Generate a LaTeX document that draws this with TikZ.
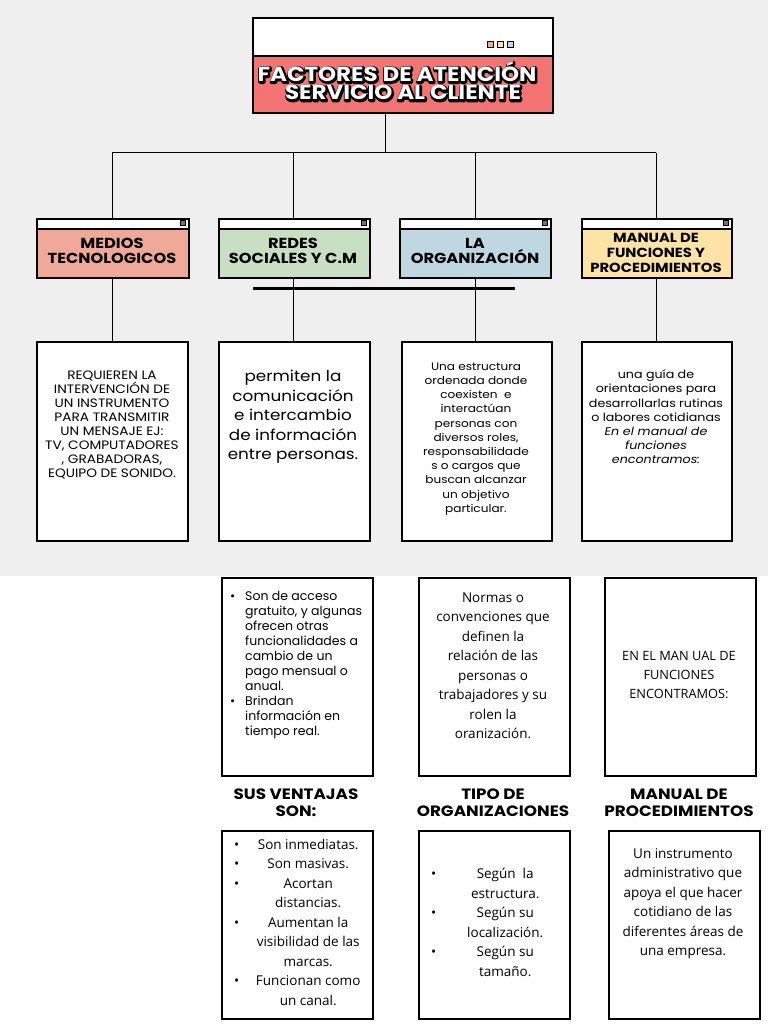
\documentclass[tikz,border=0pt]{standalone}
\usepackage{fontspec}
\setmainfont{Poppins}
\newfontfamily\opensans{Open Sans}
\newfontfamily\wide[FakeStretch=1.12]{Poppins}
\usetikzlibrary{calc}
\definecolor{paper}{HTML}{EFEFEF}
\definecolor{titlered}{HTML}{F47474}
\definecolor{cmedios}{HTML}{F0A898}
\definecolor{credes}{HTML}{C8DFC4}
\definecolor{corg}{HTML}{BFD7E0}
\definecolor{cmanual}{HTML}{FDE3A5}
\newcommand{\outlinetext}[1]{\rlap{\hspace{0.8pt}\raisebox{-0.8pt}{\color{black}\special{pdf:literal direct 0 0 0 RG 2 Tr 3.4 w 1 j}#1\special{pdf:literal direct 0 Tr}}}{\color{white}#1}}
\tikzset{
  bar/.style={draw=black, line width=2pt, fill=white, anchor=north west, inner sep=0pt},
  catbox/.style={draw=black, line width=2pt, anchor=north west, inner sep=0pt, minimum width=152pt, minimum height=49pt},
  cattext/.style={font=\wide\bfseries\fontsize{14.5}{15}\selectfont, align=center, inner sep=0pt},
  descbox/.style={draw=black, line width=1.5pt, fill=white, anchor=north west, inner sep=0pt},
  conn/.style={draw=black, line width=1pt},
  tiny/.style={draw=black, line width=1pt, fill=black!55, minimum size=5pt, inner sep=0pt},
  tsq/.style={draw=black, line width=1pt, minimum size=6pt, inner sep=0pt},
  ttl/.style={font=\wide\bfseries\fontsize{20.5}{24}\selectfont, inner sep=0pt},
  heading/.style={font=\wide\bfseries\fontsize{15}{17}\selectfont, align=center, inner sep=0pt},
}
\begin{document}
\begin{tikzpicture}[x=1pt,y=-1pt]
\useasboundingbox (0,0) rectangle (768,1024);
\fill[paper] (0,0) rectangle (768,576);
\fill[white] (0,576) rectangle (768,1024);

% title
\node[bar, minimum width=300pt, minimum height=38pt] (tbar) at (252,17) {};
\node[bar, fill=titlered, minimum width=300pt, minimum height=57pt] (title) at (252,55) {};
\node[tsq, fill=cmedios] (sq1) at (490,45) {};
\node[tsq, fill=cmanual] (sq2) at (500,45) {};
\node[tsq, fill=corg] (sq3) at (510,45) {};
\node[ttl] (t1) at (397,72) {\outlinetext{FACTORES DE ATENCIÓN}};
\node[ttl] (t2) at (403,93) {\outlinetext{SERVICIO AL CLIENTE}};

% category boxes
\node[bar, minimum width=152pt, minimum height=10pt] (b1) at (36,218) {};
\node[catbox, fill=cmedios] (c1) at (36,228) {};
\node[bar, minimum width=151pt, minimum height=10pt] (b2) at (218,218) {};
\node[catbox, fill=credes, minimum width=151pt] (c2) at (218,228) {};
\node[bar, minimum width=151pt, minimum height=10pt] (b3) at (399,218) {};
\node[catbox, fill=corg, minimum width=151pt] (c3) at (399,228) {};
\node[bar, minimum width=150pt, minimum height=10pt] (b4) at (581,218) {};
\node[catbox, fill=cmanual, minimum width=150pt] (c4) at (581,228) {};
\node[tiny] (k1) at (182.5,223.5) {};
\node[tiny] (k2) at (363.5,223.5) {};
\node[tiny] (k3) at (544.5,223.5) {};
\node[tiny] (k4) at (725.5,223.5) {};
\node[cattext] (l1) at (112,251) {MEDIOS\\TECNOLOGICOS};
\node[cattext] (l2) at (293,251) {REDES\\SOCIALES Y C.M};
\node[cattext] (l3) at (475,251) {LA\\ORGANIZACIÓN};
\node[cattext, font=\wide\bfseries\fontsize{13.2}{15}\selectfont] (l4) at (656,253) {MANUAL DE\\FUNCIONES Y\\PROCEDIMIENTOS};

% connectors top
\coordinate (j1) at (112,153);
\coordinate (j2) at (293,153);
\coordinate (j3) at (475,153);
\coordinate (j4) at (656,153);
\draw[conn] (title.south -| 385,0) -- (385,153);
\draw[conn] (j1) -- (j4);
\draw[conn] (j1) -- (j1 |- b1.north);
\draw[conn] (j2) -- (j2 |- b2.north);
\draw[conn] (j3) -- (j3 |- b3.north);
\draw[conn] (j4) -- (j4 |- b4.north);

% description boxes
\node[descbox, minimum width=151pt, minimum height=199pt] (d1) at (36,341) {};
\node[descbox, minimum width=151pt, minimum height=199pt] (d2) at (218,341) {};
\node[descbox, minimum width=150pt, minimum height=199pt] (d3) at (401,341) {};
\node[descbox, minimum width=150pt, minimum height=199pt] (d4) at (581,341) {};
\draw[conn] (c1.south -| j1) -- (d1.north -| j1);
\draw[conn] (c2.south -| j2) -- (d2.north -| j2);
\draw[conn] (c3.south -| j3) -- (d3.north -| j3);
\draw[conn] (c4.south -| j4) -- (d4.north -| j4);
\coordinate (h1) at (253,288);
\coordinate (h2) at (515,288);
\draw[line width=3pt] (h1) -- (h2);

\node[inner sep=0pt, align=center, font=\wide\fontsize{12.2}{14}\selectfont] (x1) at (112,425)
 {REQUIEREN LA\\INTERVENCIÓN DE\\UN INSTRUMENTO\\PARA TRANSMITIR\\UN MENSAJE EJ:\\TV, COMPUTADORES\\, GRABADORAS,\\EQUIPO DE SONIDO.};
\node[inner sep=0pt, align=center, font=\wide\fontsize{15}{19.5}\selectfont] (x2) at (293,417)
 {permiten la\\comunicación\\e intercambio\\de información\\entre personas.};
\node[inner sep=0pt, align=center, font=\wide\fontsize{10.8}{14.2}\selectfont] (x3) at (476,439)
 {Una estructura\\ordenada donde\\coexisten\ \ e\\interactúan\\personas con\\diversos roles,\\responsabilidade\\s o cargos que\\buscan alcanzar\\un objetivo\\particular.};
\node[inner sep=0pt, align=center, font=\wide\fontsize{11.3}{14.2}\selectfont] (x4) at (656,417)
 {una guía de\\orientaciones para\\desarrollarlas rutinas\\o labores cotidianas\\\textit{En el manual de}\\\textit{funciones}\\\textit{encontramos:}};

% row 2
\node[descbox, minimum width=151pt, minimum height=198pt] (e1) at (221,577) {};
\node[descbox, minimum width=151pt, minimum height=198pt] (e2) at (418,577) {};
\node[descbox, minimum width=151pt, minimum height=198pt] (e3) at (604,577) {};
\node[inner sep=0pt, align=left, font=\fontsize{12.5}{15}\selectfont, anchor=west] (y1) at (229,665)
 {\makebox[16pt][l]{\hspace{1pt}•}Son de acceso\\
  \makebox[16pt]{}gratuito, y algunas\\
  \makebox[16pt]{}ofrecen otras\\
  \makebox[16pt]{}funcionalidades a\\
  \makebox[16pt]{}cambio de un\\
  \makebox[16pt]{}pago mensual o\\
  \makebox[16pt]{}anual.\\
  \makebox[16pt][l]{\hspace{1pt}•}Brindan\\
  \makebox[16pt]{}información en\\
  \makebox[16pt]{}tiempo real.};
\node[inner sep=0pt, align=center, font=\opensans\fontsize{13.5}{19.5}\selectfont] (y2) at (493,666)
 {Normas o\\convenciones que\\definen la\\relación de las\\personas o\\trabajadores y su\\rolen la\\oranización.};
\node[inner sep=0pt, align=center, font=\opensans\fontsize{12.8}{19.2}\selectfont] (y3) at (679,675)
 {EN EL MAN UAL DE\\FUNCIONES\\ENCONTRAMOS:};

% headings
\node[heading] (g1) at (296,802.5) {SUS VENTAJAS\\SON:};
\node[heading] (g2) at (493,802.5) {TIPO DE\\ORGANIZACIONES};
\node[heading] (g3) at (679,802.5) {MANUAL DE\\PROCEDIMIENTOS};

% row 3
\node[descbox, minimum width=151pt, minimum height=188pt] (f1) at (221,830) {};
\node[descbox, minimum width=151pt, minimum height=188pt] (f2) at (418,830) {};
\node[descbox, minimum width=151pt, minimum height=188pt] (f3) at (608,830) {};
\node[inner sep=0pt, align=left, font=\opensans\fontsize{13.5}{19.5}\selectfont, anchor=west] (z1) at (234,922)
 {\makebox[14pt][l]{•}\makebox[120pt][c]{Son inmediatas.}\\
  \makebox[14pt][l]{•}\makebox[120pt][c]{Son masivas.}\\
  \makebox[14pt][l]{•}\makebox[120pt][c]{Acortan}\\
  \makebox[14pt][l]{}\makebox[120pt][c]{distancias.}\\
  \makebox[14pt][l]{•}\makebox[120pt][c]{Aumentan la}\\
  \makebox[14pt][l]{}\makebox[120pt][c]{visibilidad de las}\\
  \makebox[14pt][l]{}\makebox[120pt][c]{marcas.}\\
  \makebox[14pt][l]{•}\makebox[120pt][c]{Funcionan como}\\
  \makebox[14pt][l]{}\makebox[120pt][c]{un canal.}};
\node[inner sep=0pt, align=left, font=\opensans\fontsize{13.5}{19.5}\selectfont, anchor=west] (z2) at (431,922.5)
 {\makebox[14pt][l]{•}\makebox[120pt][c]{Según\ \ la}\\
  \makebox[14pt][l]{}\makebox[120pt][c]{estructura.}\\
  \makebox[14pt][l]{•}\makebox[120pt][c]{Según su}\\
  \makebox[14pt][l]{}\makebox[120pt][c]{localización.}\\
  \makebox[14pt][l]{•}\makebox[120pt][c]{Según su}\\
  \makebox[14pt][l]{}\makebox[120pt][c]{tamaño.}};
\node[inner sep=0pt, align=center, font=\opensans\fontsize{13.5}{19.5}\selectfont] (z3) at (683,903.5)
 {Un instrumento\\administrativo que\\apoya el que hacer\\cotidiano de las\\diferentes áreas de\\una empresa.};
\end{tikzpicture}
\end{document}
